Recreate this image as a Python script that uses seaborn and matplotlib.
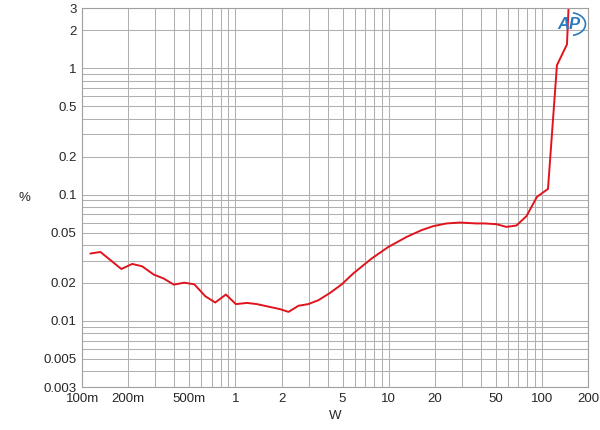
import numpy as np
import pandas as pd
import seaborn as sns
import matplotlib.pyplot as plt
from matplotlib.patches import Arc
from matplotlib.ticker import FixedLocator, FixedFormatter, LogLocator, NullFormatter

# THD+N vs output power
power_w = [0.113, 0.1315, 0.180, 0.212, 0.246, 0.293, 0.340, 0.396, 0.464, 0.539,
           0.636, 0.738, 0.867, 1.007, 1.19, 1.38, 1.96, 2.22, 2.58, 2.99,
           3.48, 4.15, 4.94, 5.88, 7.74, 9.93, 13.1, 16.4, 19.5, 23.9,
           29.1, 37.4, 42.4, 50.5, 58.7, 68.2, 79.3, 92.9, 109.6, 125.4,
           145.8, 152.0]
thd_pct = [0.0342, 0.0352, 0.0258, 0.0283, 0.0271, 0.0233, 0.0217, 0.0194, 0.0201, 0.0195,
           0.0157, 0.0140, 0.0162, 0.0136, 0.0139, 0.0136, 0.0124, 0.0118, 0.0132, 0.0136,
           0.0146, 0.0167, 0.0195, 0.0238, 0.0312, 0.0385, 0.0463, 0.0524, 0.0563, 0.0592,
           0.0602, 0.0592, 0.0592, 0.0584, 0.0556, 0.0570, 0.0676, 0.0962, 0.111, 1.06,
           1.55, 5.0]

x_ticks = [0.1, 0.2, 0.5, 1, 2, 5, 10, 20, 50, 100, 200]
x_labels = ["100m", "200m", "500m", "1", "2", "5", "10", "20", "50", "100", "200"]
y_ticks = [0.003, 0.005, 0.01, 0.02, 0.05, 0.1, 0.2, 0.5, 1, 2, 3]
y_labels = ["0.003", "0.005", "0.01", "0.02", "0.05", "0.1", "0.2", "0.5", "1", "2", "3"]

df = pd.DataFrame({"W": power_w, "pct": thd_pct})

sns.set_style("white")
plt.rcParams["font.family"] = ["Liberation Sans", "DejaVu Sans"]

fig, ax = plt.subplots(figsize=(6, 4.3), dpi=100)
fig.subplots_adjust(left=0.137, right=0.98, top=0.981, bottom=0.1)

sns.lineplot(data=df, x="W", y="pct", ax=ax, color="#e0141e", linewidth=1.4)

ax.set_xscale("log")
ax.set_yscale("log")
ax.set_xlim(0.1, 200)
ax.set_ylim(0.003, 3)

ax.xaxis.set_major_locator(FixedLocator(x_ticks))
ax.xaxis.set_major_formatter(FixedFormatter(x_labels))
ax.xaxis.set_minor_locator(LogLocator(base=10, subs=np.arange(1, 10), numticks=20))
ax.xaxis.set_minor_formatter(NullFormatter())
ax.yaxis.set_major_locator(FixedLocator(y_ticks))
ax.yaxis.set_major_formatter(FixedFormatter(y_labels))
ax.yaxis.set_minor_locator(LogLocator(base=10, subs=np.arange(1, 10), numticks=20))
ax.yaxis.set_minor_formatter(NullFormatter())

ax.grid(True, which="both", color="#b0b0b0", linewidth=0.75)
ax.tick_params(which="both", length=0, labelsize=9.5, pad=4)
for s in ax.spines.values():
    s.set_color("#a0a0a0")
    s.set_linewidth(0.8)

ax.set_xlabel("W", fontsize=9.5, labelpad=4)
ax.set_ylabel("%", fontsize=9.5, rotation=0, labelpad=14, va="center")

# AP logo
ax.text(0.962, 0.958, "AP", transform=ax.transAxes, color="#2b7bbf",
        fontsize=12, fontweight="bold", fontstyle="italic", ha="center", va="center")
ax.add_patch(Arc((0.965, 0.958), 0.06, 0.06, theta1=-80, theta2=80,
                 transform=ax.transAxes, color="#2b7bbf", linewidth=1.2))

fig.savefig("out.png", dpi=100)
